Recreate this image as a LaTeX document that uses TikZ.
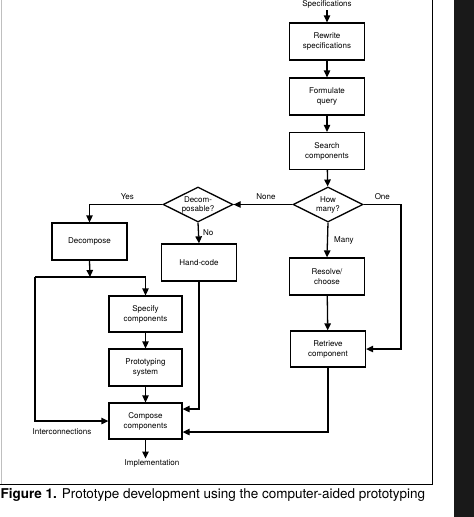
\documentclass[tikz,border=0pt]{standalone}
\usepackage{fontspec}
\setmainfont{TeX Gyre Heros}
\usetikzlibrary{shapes.geometric,arrows.meta}

\begin{document}
\begin{tikzpicture}[x=1pt,y=-1pt,-,>={Triangle[length=7pt,width=6.5pt]},line width=1.3pt,
  box node/.style={draw,rectangle,minimum width=75pt,minimum height=37pt,align=center,inner sep=1pt,font=\fontsize{8}{10}\selectfont},
  choice node/.style={draw,diamond,aspect=2,minimum width=70pt,minimum height=35pt,inner sep=0pt,align=center,font=\fontsize{8}{9}\selectfont},
  text node/.style={inner sep=1pt,font=\fontsize{8}{9.5}\selectfont}]

            \useasboundingbox (0,0) rectangle (474,517);

            \node[text node] (0) at (327,4.5) {Specifications};
            \node[box node] (1) at (327,41.5) {Rewrite\\specifications};
            \node[box node] (2) at (327,96.5) {Formulate\\query};
            \node[box node] (3) at (327,151) {Search\\components};
            \node[choice node] (4) at (328,204.5) {How\\many?};
            \node[choice node] (5) at (198,204.5) {Decom-\\posable?};
            \node[box node] (6) at (89.5,241.5) {Decompose};
            \node[box node] (7) at (199,262.5) {Hand-code};
            \node[box node] (8) at (327,276.5) {Resolve/\\choose};
            \node[box node, minimum height=36pt] (9) at (328,349) {Retrieve\\component};
            \node[box node, minimum width=73pt, minimum height=36pt] (10) at (145.5,314) {Specify\\components};
            \node[box node, minimum width=73pt] (11) at (145.5,367.5) {Prototyping\\system};
            \node[box node, minimum width=73pt, minimum height=36pt] (12) at (145.5,421) {Compose\\components};
            \node[text node] (13) at (152,463) {Implementation};
            \node[text node] (14) at (62,432) {Interconnections};

            \coordinate (c1) at (401,204.5);
            \coordinate (c2) at (328,432);
            \coordinate (c3) at (90,277);
            \coordinate (c4) at (35,277);
            \coordinate (c5) at (145.5,277);
            \coordinate (c6) at (199,409);

            \draw[->] (0) to (1);
            \draw[->] (1) to (2);
            \draw[->] (2) to (3);
            \draw[->] (3) to (4);
            \draw[->] (4.west) to node[text node,above=3pt,pos=.45]{None} (5.east);
            \draw[->] (4.east) -- node[text node,above=3pt]{One} (c1) |- (9.east);
            \draw[->] (4.south) to node[text node,right=5pt]{Many} (8.north);
            \draw[->] (8) to (9);
            \draw[->] (9.south) -- (c2) -- (12.east |- c2);
            \draw[->] (5.west) -| node[text node,above=3pt,pos=.24]{Yes} (6.north);
            \draw[->] (5.south) to node[text node,right=3pt]{No} (7.north);
            \draw[->] (6.south) to (c3);
            \draw[-] (c4) -- (c5);
            \draw[->] (c5) to (10.north);
            \draw[->] (c4) |- (12.west);
            \draw[->] (7.south) -- (c6) -- (12.east |- c6);
            \draw[->] (10) to (11);
            \draw[->] (11) to (12);
            \draw[->] (12.south) to ([yshift=-1pt]12.south |- 13.north);

            \draw[line width=1pt] (432,0) -- (432,484) -- (0,484);
            \draw[line width=1pt, black!25] (1,0) -- (1,484);
            \fill[black!90] (454,0) rectangle (474,517);

            \node[anchor=west, inner sep=0pt, font=\fontsize{13.5}{15}\selectfont] (15) at (0,495)
              {\textbf{Figure 1.} Prototype development using the computer-aided prototyping};

            ;
        \end{tikzpicture}
\end{document}
